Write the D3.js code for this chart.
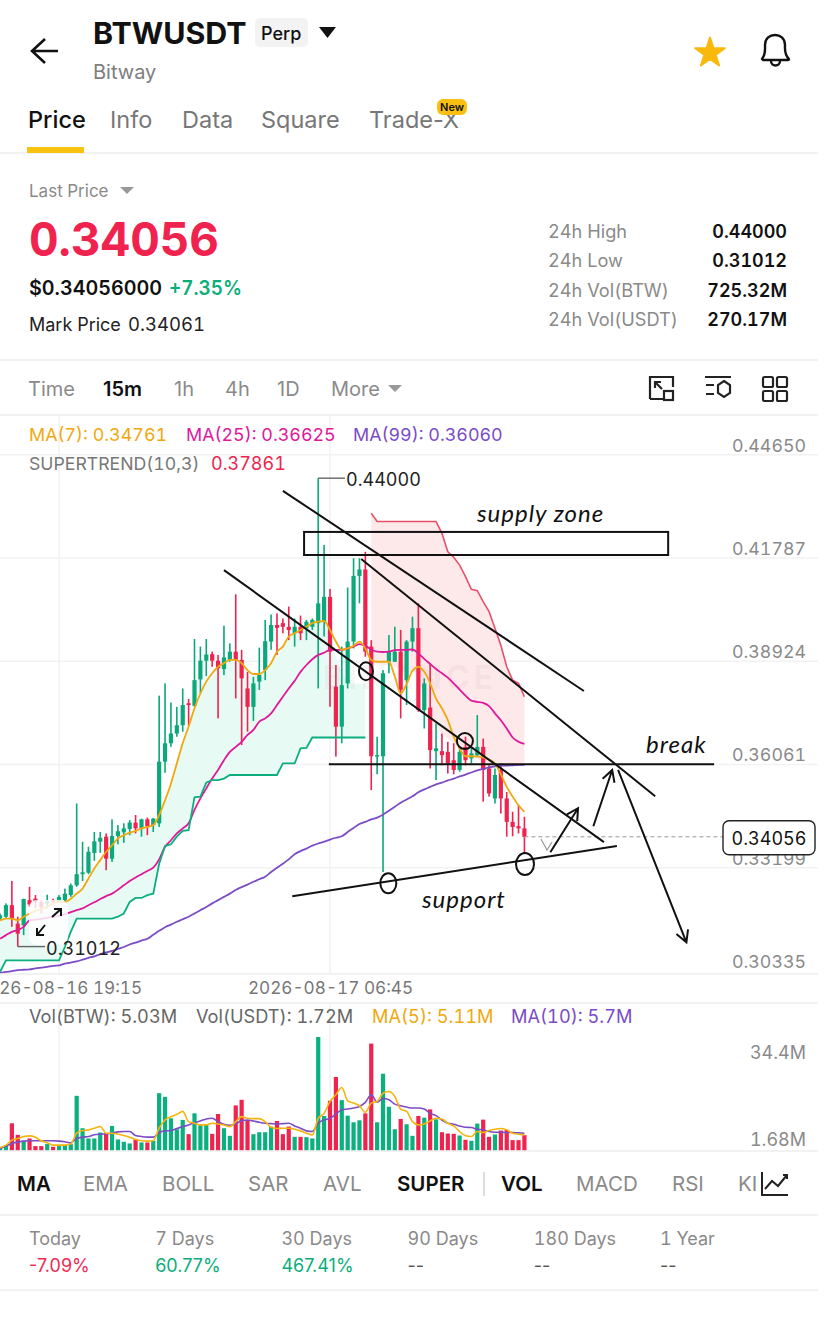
<!DOCTYPE html>
<html>
<head>
<meta charset="utf-8">
<style>
  html, body { margin: 0; padding: 0; background: #fff; }
  svg { display: block; }
  text { font-family: Inter, "Noto Sans", sans-serif; font-variant-numeric: tabular-nums; }
  text.plain { font-variant-numeric: normal; }
</style>
<script src="https://cdn.jsdelivr.net/npm/d3@7"></script>
</head>
<body>
<svg id="chart" width="828" height="1321"></svg>
<script>
// candles, 15m, first one is 2026-08-16 16:45
var opens = [.3179,.3184,.3216,.3165,.3160,.3230,.3234,.3225,.3221,.3230,
  .3225,.3230,.3244,.3271,.3302,.3306,.3361,.3392,.3406,.3345,
  .3408,.3418,.3427,.3445,.3429,.3454,.3438,.3443,.3614,.3665,
  .3692,.3715,.3776,.3769,.3842,.3894,.3912,.3894,.3871,.3896,
  .3919,.3896,.3817,.3766,.3836,.3868,.3947,.3993,.3998,.3988,
  .3970,.3988,.3984,.3988,.3998,.4002,.4071,.3822,.3711,.3831,
  .3947,.4129,.4147,.3933,.3628,.3629,.3891,.3891,.3919,.3840,
  .3947,.3984,.3757,.3764,.3643,.3643,.3641,.3618,.3591,.3655,
  .3623,.3632,.3655,.3595,.3512,.3591,.3512,.3447,.3435,.3429]
var closes = [.3188,.3216,.3179,.3137,.3233,.3218,.3225,.3211,.3227,.3225,
  .3239,.3248,.3271,.3302,.3307,.3364,.3393,.3403,.3345,.3408,
  .3421,.3429,.3445,.3429,.3454,.3435,.3456,.3614,.3665,.3692,
  .3715,.3771,.3771,.3840,.3894,.3911,.3894,.3873,.3903,.3919,
  .3896,.3845,.3766,.3831,.3854,.3948,.3993,.3985,.3988,.3979,
  .3988,.3970,.4002,.4007,.4053,.4071,.3919,.3711,.3826,.3947,
  .4129,.4147,.3919,.3629,.3632,.3859,.3919,.3919,.3813,.3947,
  .3984,.3757,.3831,.3646,.3651,.3632,.3609,.3591,.3641,.3618,
  .3637,.3655,.3591,.3526,.3577,.3512,.3447,.3433,.3429,.34056]
var highs = [.3193,.3221,.3283,.3184,.3234,.3267,.3244,.3230,.3245,.3234,
  .3244,.3262,.3276,.3498,.3392,.3378,.3419,.3419,.3415,.3454,
  .3438,.3443,.3452,.3466,.3456,.3459,.3458,.3797,.3831,.3778,
  .3766,.3817,.3788,.3954,.3933,.3954,.3919,.3910,.3991,.3942,
  .4078,.3924,.3863,.3849,.3930,.4007,.4022,.4025,.4011,.4044,
  .4011,.4019,.4007,.4011,.44000,.4215,.4093,.3882,.3933,.4097,
  .4178,.4178,.4196,.3951,.3683,.3868,.3965,.3988,.3979,.3951,
  .4016,.4053,.3845,.3887,.3720,.3692,.3669,.3665,.3651,.3683,
  .3655,.3743,.3678,.3604,.3595,.3609,.3530,.3475,.3493,.3461]
var lows = [.3174,.3179,.3156,.31012,.3133,.3211,.3207,.3193,.3207,.3221,
  .3223,.3225,.3239,.3267,.3283,.3302,.3339,.3361,.3313,.3336,
  .3385,.3389,.3410,.3415,.3406,.3410,.3419,.3433,.3583,.3655,
  .3683,.3697,.3713,.3766,.3803,.3851,.3877,.3734,.3854,.3891,
  .3789,.3660,.3697,.3727,.3813,.3840,.3924,.3910,.3970,.3951,
  .3933,.3951,.3951,.3979,.3817,.3961,.3766,.3628,.3665,.3817,
  .3928,.4053,.3905,.3535,.3579,.3308,.3859,.3891,.3734,.3771,
  .3919,.3752,.3706,.3595,.3563,.3604,.3581,.3579,.3586,.3604,
  .3609,.3628,.3503,.3517,.3498,.3470,.3406,.3407,.3415,.3359]

var ma7 = [.3174,.3179,.3179,.3174,.3184,.3193,.3200,.3205,.3211,.3221,
  .3225,.3225,.3234,.3248,.3262,.3290,.3318,.3341,.3364,.3382,
  .3401,.3410,.3417,.3422,.3429,.3433,.3438,.3466,.3507,.3553,
  .3609,.3665,.3711,.3762,.3803,.3836,.3859,.3877,.3887,.3896,
  .3896,.3887,.3868,.3857,.3857,.3868,.3887,.3919,.3933,.3961,
  .3970,.3979,.3988,.3998,.4002,.4004,.3979,.3947,.3924,.3928,
  .3935,.3947,.3928,.3896,.3891,.3891,.3891,.3850,.3803,.3829,
  .3866,.3877,.3863,.3831,.3789,.3762,.3729,.3683,.3651,.3629,
  .3629,.3628,.3626,.3620,.3609,.3579,.3544,.3517,.3493,.3475]
var ma25 = [.3123,.3133,.3142,.3147,.3156,.3174,.3176,.3178,.3181,.3184,
  .3186,.3191,.3197,.3202,.3207,.3216,.3224,.3233,.3241,.3248,
  .3259,.3271,.3283,.3293,.3302,.3311,.3320,.3343,.3378,.3396,
  .3415,.3429,.3443,.3480,.3512,.3540,.3567,.3591,.3618,.3641,
  .3655,.3669,.3688,.3702,.3725,.3734,.3748,.3771,.3794,.3817,
  .3838,.3863,.3882,.3898,.3910,.3916,.3924,.3924,.3924,.3928,
  .3933,.3940,.3935,.3925,.3919,.3918,.3919,.3923,.3924,.3924,
  .3925,.3914,.3899,.3885,.3871,.3859,.3847,.3831,.3814,.3797,
  .3783,.3780,.3777,.3768,.3748,.3729,.3706,.3681,.3669,.3663]
var ma99 = [.3028,.3031,.3033,.3036,.3037,.3038,.3041,.3043,.3045,.3048,
  .3049,.3054,.3057,.3060,.3065,.3070,.3074,.3080,.3085,.3089,
  .3095,.3100,.3107,.3112,.3118,.3123,.3134,.3145,.3155,.3162,
  .3170,.3177,.3184,.3193,.3202,.3211,.3221,.3230,.3239,.3248,
  .3258,.3266,.3273,.3281,.3288,.3295,.3308,.3320,.3331,.3343,
  .3357,.3366,.3373,.3381,.3387,.3392,.3398,.3403,.3407,.3419,
  .3430,.3441,.3447,.3454,.3459,.3467,.3478,.3489,.3500,.3509,
  .3518,.3529,.3537,.3544,.3551,.3556,.3562,.3567,.3573,.3578,
  .3584,.3590,.3594,.3598,.3601,.3603,.3603,.3604,.3605,.3605]

// supertrend: green part covers the first 63 candles, red part the last 27
var stGreen = [.3031,.3063,.3063,.3063,.3063,.3063,.3063,.3063,.3063,.3063,
  .3063,.3100,.3142,.3179,.3179,.3179,.3179,.3179,.3179,.3179,
  .3184,.3193,.3225,.3236,.3236,.3244,.3248,.3331,.3380,.3385,
  .3406,.3422,.3424,.3515,.3517,.3556,.3563,.3563,.3567,.3577,
  .3577,.3577,.3577,.3577,.3577,.3577,.3577,.3577,.3609,.3609,
  .3609,.3651,.3652,.3681,.3681,.3681,.3681,.3681,.3681,.3681,
  .3681,.3681,.3681]
var stRed = [.4303,.4280,.4280,.4280,.4280,.4280,.4280,.4280,.4280,.4280,
  .4280,.4280,.4247,.4196,.4181,.4159,.4127,.4092,.4088,.4058,
  .4030,.3984,.3937,.3877,.3840,.3831,.3794]
// far edge of the supertrend shading
var greenEdge = ma7.slice(0, 57).concat([.3900, .3860, .3835, .3830, .3830, .3830])
var redEdge = [.3886,.3886,.3882,.3882,.3877,.3868,.3859,.3863,.3859,.3785,
  .3738,.3711,.3692,.3678,.3664,.3650,.3641,.3632,.3623,.3614,
  .3609,.3604,.3604,.3604,.3604,.3604,.3604]

// volume, millions
var volumes = [1.2,1.7,8.3,4.8,3.0,3.7,1.4,1.4,2.0,1.2,
  1.4,1.7,2.0,16.6,6.8,3.7,3.7,5.5,5.1,7.5,
  3.4,2.7,2.2,3.5,2.5,2.5,3.0,17.4,16.3,9.8,
  6.5,9.3,5.0,11.3,7.7,8.0,5.1,11.1,6.8,4.5,
  13.7,15.4,9.3,5.0,5.6,5.6,7.3,9.0,5.0,7.3,
  4.2,4.2,4.1,3.7,34.4,10.5,15.1,22.3,15.3,10.6,
  8.6,9.2,11.3,32.4,8.6,23.3,13.3,6.5,9.6,8.0,
  4.5,10.5,10.0,12.5,9.5,5.6,5.2,5.1,4.6,3.3,
  3.0,8.2,9.4,4.2,4.9,6.1,6.3,3.2,3.2,4.7]
var volMa5 = [.9,1.7,3.2,3.7,4.3,4.5,4.1,3.0,2.4,1.7,
  1.7,1.7,2.0,5.3,6.1,6.3,6.8,7.3,5.3,5.3,
  5.0,4.6,4.1,3.4,3.0,2.9,3.0,6.8,9.3,10.3,
  11.0,11.9,8.8,8.3,7.8,7.8,8.3,8.1,7.8,7.3,
  8.8,10.3,9.8,9.7,9.7,8.8,7.1,6.7,6.8,6.8,
  6.5,6.0,5.3,4.8,9.8,11.3,14.9,16.9,19.1,15.1,
  14.4,13.6,11.6,14.4,14.9,17.4,17.9,16.4,12.6,11.9,
  8.8,7.8,8.1,9.0,9.8,9.6,8.3,7.5,5.8,4.5,
  4.3,5.8,5.5,6.1,6.5,6.7,6.3,5.3,5.0,4.8]
var volMa10 = [.7,1.4,2.2,2.6,2.9,3.0,3.0,3.0,3.0,3.0,
  2.9,2.7,2.4,3.7,4.1,4.3,4.8,5.0,5.1,5.3,
  5.7,5.8,5.8,4.6,4.3,4.1,4.1,5.5,6.0,6.1,
  6.7,7.3,7.8,8.5,9.0,9.6,9.8,8.8,8.0,7.7,
  8.1,9.1,9.3,9.0,8.6,8.3,8.2,8.1,8.2,8.3,
  7.5,6.8,6.0,5.8,8.3,9.3,9.8,11.1,12.4,12.6,
  12.9,13.4,14.6,16.9,14.7,15.8,15.4,14.1,13.6,13.2,
  12.9,12.9,12.6,11.3,10.6,9.3,8.3,8.0,7.5,7.1,
  7.0,6.5,6.3,5.8,5.6,5.6,5.5,5.5,5.4,5.3]

var priceTicks = [0.44650, 0.41787, 0.38924, 0.36061, 0.33199, 0.30335]
var volTicks = [1.68, 34.4]
var timeTicks = [new Date(2026, 7, 16, 19, 15), new Date(2026, 7, 17, 6, 45)]
var lastPrice = 0.34056, dayHigh = 0.44000, dayLow = 0.31012

// hand drawn marks, [candle slot counted from 19:15, price]
var trendLines = [
  [[38.0, .4365], [89.1, .3810]],
  [[51.3, .4176], [101.2, .3518]],
  [[28.0, .4145], [92.5, .3391]],
  [[45.8, .3607], [111.2, .3607]],
  [[39.6, .3241], [94.7, .3380]]
]
var arrowLines = [
  [[83.4, .3363], [88.1, .3485]],
  [[90.7, .3435], [93.9, .3591]],
  [[94.9, .3591], [106.5, .3113]]
]
var circles = [[52.1, .3865, 7, 9], [68.9, .3671, 8, 8], [55.9, .3277, 8, 10], [79.1, .3330, 9, 11]]
var supplyZone = [[41.6, .4251], [103.4, .4187]]

var statsRow = [
  ['Today', '-7.09%', '#ee2a55'], ['7 Days', '60.77%', '#0bae7b'], ['30 Days', '467.41%', '#0bae7b'],
  ['90 Days', '--', '#555'], ['180 Days', '--', '#555'], ['1 Year', '--', '#555']
]
var indicatorTabs = [['MA', 17, 1], ['EMA', 83, 0], ['BOLL', 162, 0], ['SAR', 248, 0], ['AVL', 323, 0],
  ['SUPER', 397, 1], ['VOL', 501, 1], ['MACD', 576, 0], ['RSI', 672, 0], ['KI', 738, 0]]
var dayStats = [['24h High', '0.44000', 238], ['24h Low', '0.31012', 267],
  ['24h Vol(BTW)', '725.32M', 297], ['24h Vol(USDT)', '270.17M', 326]]

var GREEN = '#0aa87a', RED = '#f0234f', ORANGE = '#efa90f', PINK = '#e0189a', PURPLE = '#7b4cc6', GREY = '#8a8a8a'

var svg = d3.select('#chart')
svg.append('rect').attr('width', 828).attr('height', 1321).attr('fill', '#fff')

function label (x, y, str, size, color, weight, anchor, parent) {
  return (parent || svg).append('text')
      .attr('x', x).attr('y', y)
      .attr('font-size', size)
      .attr('font-weight', weight || 400)
      .attr('text-anchor', anchor || 'start')
      .attr('fill', color || '#111')
      .text(str)
}
function rule (y) {
  svg.append('line').attr('x1', 0).attr('x2', 818).attr('y1', y).attr('y2', y)
      .attr('stroke', '#eeeeee').attr('stroke-width', 1.5)
}

// ---- scales
var t0 = timeTicks[0]
var x = d3.scaleTime().domain(timeTicks).range([59, 330])
var y = d3.scaleLinear().domain([0.41787, 0.30335]).range([558, 971])
var yVol = d3.scaleLinear().domain([0, 34.4]).range([1150.7, 1037])
function slotX (slot) { return x(new Date(+t0 + slot * 15 * 60000)) }
var candleX = function (d, j) { return slotX(j - 10) }

var candles = opens.map(function (o, j) {
  return { open: o, close: closes[j], high: highs[j], low: lows[j], vol: volumes[j], up: closes[j] >= o }
})

renderHeader()
renderPrice()
renderChart()
renderVolume()
renderBottom()

function renderHeader () {
  svg.append('path').attr('d', 'M58 51H33M45 39L32 51L45 63').attr('fill', 'none')
      .attr('stroke', '#111').attr('stroke-width', 2.6)
  label(93, 44, 'BTWUSDT', 30.4, '#111', 700)
  svg.append('rect').attr('x', 255).attr('y', 18).attr('width', 53).attr('height', 29).attr('rx', 5).attr('fill', '#f3f3f3')
  label(261, 39.5, 'Perp', 18, '#111', 500)
  svg.append('path').attr('d', 'M319 27H336L327.5 38Z').attr('fill', '#111')
  label(93, 79, 'Bitway', 20, '#7e7e7e')
  var star = d3.symbol().type(d3.symbolStar).size(270)
  svg.append('path').attr('d', star()).attr('transform', 'translate(710,53)')
      .attr('fill', '#f8b90c').attr('stroke', '#f8b90c').attr('stroke-width', 2).attr('stroke-linejoin', 'round')
  svg.append('path')
      .attr('d', 'M762 59C766 54 765 49 765 45C765 38 770 35 775 35C780 35 785 38 785 45C785 49 784 54 789 59C789 60 788 60 788 60H763ZM771 61C771 67 780 67 780 61')
      .attr('fill', 'none').attr('stroke', '#111').attr('stroke-width', 2.4).attr('stroke-linejoin', 'round')

  var tabs = [['Price', 28, '#111', 500], ['Info', 110, '#777'], ['Data', 182, '#777'], ['Square', 261, '#777'], ['Trade-X', 369, '#777']]
  tabs.forEach(function (t) { label(t[1], 128, t[0], 23.5, t[2], t[3]).attr('class', 'plain') })
  svg.append('rect').attr('x', 437).attr('y', 99).attr('width', 30).attr('height', 16).attr('rx', 6).attr('fill', '#f9c012')
  label(452, 111, 'New', 11, '#111', 600, 'middle')
  rule(153)
  svg.append('rect').attr('x', 27).attr('y', 147).attr('width', 57).attr('height', 6).attr('fill', '#f8c30f')
}

function renderPrice () {
  label(29, 197, 'Last Price', 17, GREY)
  svg.append('path').attr('d', 'M120 187H134L127 194Z').attr('fill', '#999')
  label(29, 256, '0.34056', 46, RED, 700).attr('textLength', 190).attr('lengthAdjust', 'spacingAndGlyphs')
  label(29, 295, '$0.34056000', 20, '#111', 600).attr('textLength', 133).attr('lengthAdjust', 'spacingAndGlyphs')
  label(169, 295, '+7.35%', 20, '#0bae7b', 600).attr('textLength', 73).attr('lengthAdjust', 'spacingAndGlyphs')
  label(29, 331, 'Mark Price', 18, '#222')
  label(128, 331, '0.34061', 18.5, '#222')
  dayStats.forEach(function (s) {
    label(548, s[2], s[0], 18.2, GREY)
    label(787, s[2], s[1], 18, '#111', 600, 'end')
  })
  rule(360)
  rule(415)
  var frames = [['Time', 28, GREY], ['15m', 103, '#111', 600], ['1h', 174, GREY], ['4h', 225, GREY], ['1D', 277, GREY], ['More', 331, GREY]]
  frames.forEach(function (f) { label(f[1], 396, f[0], 20, f[2], f[3]).attr('class', 'plain') })
  svg.append('path').attr('d', 'M388 385H402L395 392Z').attr('fill', '#999')

  var icons = svg.append('g').attr('fill', 'none').attr('stroke', '#222').attr('stroke-width', 2.2)
  icons.append('path').attr('d', 'M650 399V377H673V387M663 399H650M655 382L662 389M655 388V382H661')
  icons.append('rect').attr('x', 664).attr('y', 391).attr('width', 9).attr('height', 9)
  icons.append('path').attr('d', 'M705 377H731M706 385H714M706 394H714M724 381L730 385V393L724 397L718 393V385Z')
  ;[763, 777].forEach(function (ix) {
    ;[377, 391].forEach(function (iy) {
      icons.append('rect').attr('x', ix).attr('y', iy).attr('width', 10).attr('height', 10).attr('rx', 1.5)
    })
  })
}

function renderChart () {
  var chart = svg.append('g').attr('class', 'price')

  // grid, the lowest tick shares the pane border
  chart.append('g').selectAll('line').data(priceTicks.slice(0, 5)).join('line')
      .attr('x1', 0).attr('x2', 818)
      .attr('y1', function (d) { return y(d) }).attr('y2', function (d) { return y(d) })
      .attr('stroke', '#f2f2f2').attr('stroke-width', 1.5)
  chart.append('g').selectAll('line').data(timeTicks).join('line')
      .attr('x1', function (d) { return x(d) }).attr('x2', function (d) { return x(d) })
      .attr('y1', 415).attr('y2', 974)
      .attr('stroke', '#f2f2f2').attr('stroke-width', 1.5)
  rule(974)
  rule(1003)

  // supertrend shading
  var greenPts = stGreen.map(function (v, j) { return { i: j, st: v, edge: greenEdge[j] } })
  var redPts = stRed.map(function (v, j) { return { i: j + stGreen.length, st: v, edge: redEdge[j] } })
  var band = d3.area()
      .x(function (d) { return slotX(d.i - 10) })
      .y0(function (d) { return y(d.st) })
      .y1(function (d) { return y(d.edge) })
  chart.append('path').attr('d', band(greenPts)).attr('fill', '#e7faf4')
  chart.append('path').attr('d', band(redPts)).attr('fill', '#fde8ea')

  label(410, 689, 'BINANCE', 32, '#000', 700, 'middle', chart).attr('letter-spacing', 4).attr('fill-opacity', 0.05)

  // candles
  var c = chart.append('g').selectAll('g').data(candles).join('g')
      .attr('fill', function (d) { return d.up ? GREEN : RED })
  c.append('rect')
      .attr('x', function (d, j) { return candleX(d, j) - 0.8 })
      .attr('width', 1.6)
      .attr('y', function (d) { return y(d.high) })
      .attr('height', function (d) { return y(d.low) - y(d.high) })
  c.append('rect')
      .attr('x', function (d, j) { return candleX(d, j) - 2.1 })
      .attr('width', 4.2)
      .attr('y', function (d) { return y(Math.max(d.open, d.close)) })
      .attr('height', function (d) { return Math.max(1.5, Math.abs(y(d.open) - y(d.close))) })

  // moving averages and supertrend
  var line = d3.line()
      .x(function (d, j) { return slotX(j - 10) })
      .y(function (d) { return y(d) })
      .curve(d3.curveMonotoneX)
  var series = [[ma99, PURPLE], [ma25, PINK], [ma7, ORANGE]]
  series.forEach(function (s) {
    chart.append('path').attr('d', line(s[0])).attr('fill', 'none').attr('stroke', s[1]).attr('stroke-width', 1.8)
  })
  var stLine = d3.line().x(function (d) { return slotX(d.i - 10) }).y(function (d) { return y(d.st) })
  chart.append('path').attr('d', stLine(greenPts)).attr('fill', 'none').attr('stroke', '#0cae7f').attr('stroke-width', 1.8)
  chart.append('path').attr('d', stLine(redPts)).attr('fill', 'none').attr('stroke', '#e8506a').attr('stroke-width', 1.6)

  // price axis
  var axis = chart.append('g').attr('transform', 'translate(806,0)')
      .call(d3.axisLeft(y).tickValues(priceTicks).tickFormat(d3.format('.5f')).tickSize(0))
  axis.select('.domain').remove()
  axis.selectAll('text').attr('x', 0).attr('dy', '-0.2em').attr('font-size', 17.8).attr('fill', GREY)
      .style('font-family', 'Inter, "Noto Sans", sans-serif')

  // time axis
  var tAxis = chart.append('g').attr('transform', 'translate(0,974)')
      .call(d3.axisBottom(x).tickValues(timeTicks).tickFormat(d3.timeFormat('%Y-%m-%d %H:%M')).tickSize(0))
  tAxis.select('.domain').remove()
  tAxis.selectAll('text').attr('y', 8).attr('font-size', 17.2).attr('fill', '#777')
      .style('font-family', 'Inter, "Noto Sans", sans-serif')

  // legend
  var legend = [['MA(7): 0.34761', 29, ORANGE], ['MA(25): 0.36625', 186, PINK], ['MA(99): 0.36060', 353, PURPLE]]
  legend.forEach(function (l) { label(l[1], 441, l[0], 17.9, l[2]) })
  label(29, 470, 'SUPERTREND(10,3)', 17.7, '#777')
  label(211, 470, '0.37861', 18, RED)

  // high and low flags
  var hiX = slotX(44), loX = slotX(-7)
  chart.append('path').attr('d', 'M' + hiX + ' ' + y(dayHigh) + 'H345').attr('stroke', '#666').attr('stroke-width', 1.4)
  label(346, y(dayHigh) + 8, d3.format('.5f')(dayHigh), 18, '#222', 400, 'start', chart)
  chart.append('rect').attr('x', 29).attr('y', 900).attr('width', 39).attr('height', 45).attr('rx', 8)
      .attr('fill', '#fff').attr('fill-opacity', 0.82)
  chart.append('path').attr('d', 'M' + loX + ' ' + y(dayLow) + 'H45').attr('stroke', '#666').attr('stroke-width', 1.4)
  label(46, y(dayLow) + 8, d3.format('.5f')(dayLow), 18, '#222', 400, 'start', chart)
  chart.append('path').attr('d', 'M52 917L61 909M54 909H61V916M45 925L37 935M37 928V935H44')
      .attr('fill', 'none').attr('stroke', '#111').attr('stroke-width', 2)

  // last price tag
  chart.append('line').attr('x1', slotX(79)).attr('x2', 723)
      .attr('y1', y(lastPrice)).attr('y2', y(lastPrice))
      .attr('stroke', '#999').attr('stroke-dasharray', '4 3')
  chart.append('rect').attr('x', 723).attr('y', y(lastPrice) - 16).attr('width', 92).attr('height', 34).attr('rx', 6)
      .attr('fill', '#fff').attr('stroke', '#222').attr('stroke-width', 1.4)
  label(769, y(lastPrice) + 8, d3.format('.5f')(lastPrice), 18, '#111', 400, 'middle', chart)

  renderDrawing(chart)
}

function renderDrawing (chart) {
  var ink = chart.append('g').attr('fill', 'none').attr('stroke', '#111').attr('stroke-width', 2)
  var seg = d3.line().x(function (d) { return slotX(d[0]) }).y(function (d) { return y(d[1]) })

  trendLines.forEach(function (l) { ink.append('path').attr('d', seg(l)) })

  ink.append('rect')
      .attr('x', slotX(supplyZone[0][0])).attr('y', y(supplyZone[0][1]))
      .attr('width', slotX(supplyZone[1][0]) - slotX(supplyZone[0][0]))
      .attr('height', y(supplyZone[1][1]) - y(supplyZone[0][1]))

  circles.forEach(function (c) {
    ink.append('ellipse').attr('cx', slotX(c[0])).attr('cy', y(c[1])).attr('rx', c[2]).attr('ry', c[3])
  })

  arrowLines.forEach(function (l) {
    var x2 = slotX(l[1][0]), y2 = y(l[1][1])
    var ang = Math.atan2(y2 - y(l[0][1]), x2 - slotX(l[0][0]))
    var h = 13, s = 0.5
    ink.append('path').attr('d', seg(l) +
      'M' + (x2 - h * Math.cos(ang - s)) + ' ' + (y2 - h * Math.sin(ang - s)) +
      'L' + x2 + ' ' + y2 +
      'L' + (x2 - h * Math.cos(ang + s)) + ' ' + (y2 - h * Math.sin(ang + s)))
  })
  ink.append('path').attr('d', 'M541 839L547 850L552 842').attr('stroke', '#999').attr('stroke-width', 1.2)

  var note = function (px, py, str) {
    label(px, py, str, 24, '#111', 400, 'start', chart)
      .style('font-family', 'Lato, sans-serif').style('font-style', 'italic').attr('letter-spacing', 1)
  }
  note(477, 522, 'supply  zone')
  note(646, 753, 'break')
  note(422, 908, 'support')
}

function renderVolume () {
  var vol = svg.append('g').attr('class', 'volume')
  vol.append('g').selectAll('line').data(timeTicks).join('line')
      .attr('x1', function (d) { return x(d) }).attr('x2', function (d) { return x(d) })
      .attr('y1', 1003).attr('y2', 1150)
      .attr('stroke', '#f2f2f2').attr('stroke-width', 1.5)

  label(29, 1023, 'Vol(BTW): 5.03M', 18.2, '#666')
  label(196, 1023, 'Vol(USDT): 1.72M', 18.2, '#666')
  label(372, 1023, 'MA(5): 5.11M', 18.2, ORANGE)
  label(511, 1023, 'MA(10): 5.7M', 18.2, PURPLE)

  vol.append('g').selectAll('rect').data(candles).join('rect')
      .attr('x', function (d, j) { return candleX(d, j) - 2.1 })
      .attr('width', 4.2)
      .attr('y', function (d) { return yVol(d.vol) })
      .attr('height', function (d) { return yVol(0) - yVol(d.vol) })
      .attr('fill', function (d) { return d.up ? '#0bb07f' : RED })

  var line = d3.line()
      .x(function (d, j) { return slotX(j - 10) })
      .y(function (d) { return yVol(d) })
      .curve(d3.curveMonotoneX)
  vol.append('path').attr('d', line(volMa10)).attr('fill', 'none').attr('stroke', PURPLE).attr('stroke-width', 1.6)
  vol.append('path').attr('d', line(volMa5)).attr('fill', 'none').attr('stroke', '#f5b50c').attr('stroke-width', 1.6)

  var axis = vol.append('g').attr('transform', 'translate(806,0)')
      .call(d3.axisLeft(yVol).tickValues(volTicks).tickFormat(function (d) { return d + 'M' }).tickSize(0))
  axis.select('.domain').remove()
  axis.selectAll('text').attr('x', 0).attr('font-size', 18).attr('fill', GREY)
      .attr('dy', function (d) { return d === 34.4 ? 21 : 0 })
      .style('font-family', 'Inter, "Noto Sans", sans-serif')
}

function renderBottom () {
  rule(1151)
  indicatorTabs.forEach(function (t) {
    label(t[1], 1191, t[0], 20.5, t[2] ? '#111' : GREY, t[2] ? 600 : 400)
  })
  svg.append('line').attr('x1', 484).attr('x2', 484).attr('y1', 1172).attr('y2', 1196).attr('stroke', '#bbb')
  svg.append('rect').attr('x', 757).attr('y', 1165).attr('width', 61).attr('height', 40).attr('fill', '#fff')
  svg.append('path').attr('d', 'M762 1172V1195H788M765 1189L772 1181L778 1186L787 1175M783 1175H787V1179')
      .attr('fill', 'none').attr('stroke', '#222').attr('stroke-width', 2)
  rule(1215)
  statsRow.forEach(function (s, j) {
    var sx = 29 + j * 126.2
    label(sx, 1245, s[0], 18, GREY)
    label(sx, 1272, s[1], 18, s[2]).attr('class', 'plain')
  })
  rule(1290)
}
</script>
</body>
</html>
